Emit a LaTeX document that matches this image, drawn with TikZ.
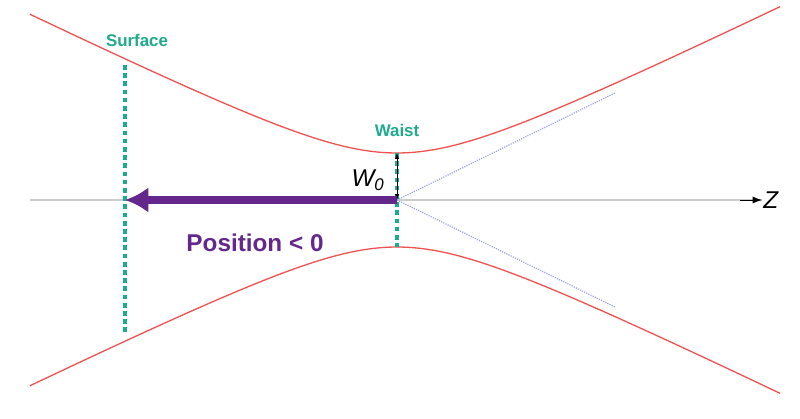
\documentclass[tikz,border=0pt]{standalone}
\usepackage{fontspec}
\setmainfont{Liberation Sans}
\usetikzlibrary{arrows.meta}
\definecolor{beam}{RGB}{240,80,80}
\definecolor{teal}{RGB}{30,170,140}
\definecolor{violet}{RGB}{100,40,140}
\definecolor{guide}{RGB}{150,160,220}
\tikzset{
  beamline/.style={beam, line width=1.1pt},
  plane/.style={teal, line width=4pt, dash pattern=on 4pt off 3pt},
  tag/.style={teal, font=\bfseries\Large},
}
\begin{document}
\begin{tikzpicture}[x=0.3mm,y=-0.3mm]
  \useasboundingbox (0,0) rectangle (800,419);
  % axis
  \coordinate (zl) at (30,200);
  \coordinate (zr) at (762,200);
  \draw[gray!40, line width=1pt] (zl) -- (zr);
  \draw[-{Latex[length=8pt,width=6pt]}, black, line width=0.8pt] (740,200) -- (zr);
  \node[font=\itshape\huge, anchor=west, inner sep=1pt] (z) at (zr) {Z};
  % asymptotes
  \coordinate (w) at (397,200);
  \draw[guide, densely dotted, line width=1pt] (w) -- (615,93);
  \draw[guide, densely dotted, line width=1pt] (w) -- (615,307);
  % beam envelope
  \draw[beamline, domain=-367:383, samples=120]
    plot ({397+\x}, {200-47*sqrt(1+(\x/96)^2)});
  \draw[beamline, domain=-367:383, samples=120]
    plot ({397+\x}, {200+47*sqrt(1+(\x/96)^2)});
  % planes
  \coordinate (st) at (125,65);
  \coordinate (sb) at (125,335);
  \coordinate (s) at (125,200);
  \draw[plane] (st) -- (sb);
  \coordinate (wt) at (397,153);
  \coordinate (wb) at (397,247);
  \draw[plane] (wt) -- (wb);
  % waist radius
  \draw[{Latex[length=5pt]}-{Latex[length=5pt]}, black, line width=0.8pt] (wt) -- (w);
  \node[font=\itshape\huge] (w0) at (368,180) {W\textsubscript{0}};
  % position
  \draw[-{Latex[length=20pt,width=22pt]}, violet, line width=7pt] (w) -- (s);
  \node[violet, font=\bfseries\huge] (pos) at (255,243) {Position < 0};
  \node[tag] (surf) at (137,40) {Surface};
  \node[tag] (waist) at (397,130) {Waist};
\end{tikzpicture}
\end{document}
